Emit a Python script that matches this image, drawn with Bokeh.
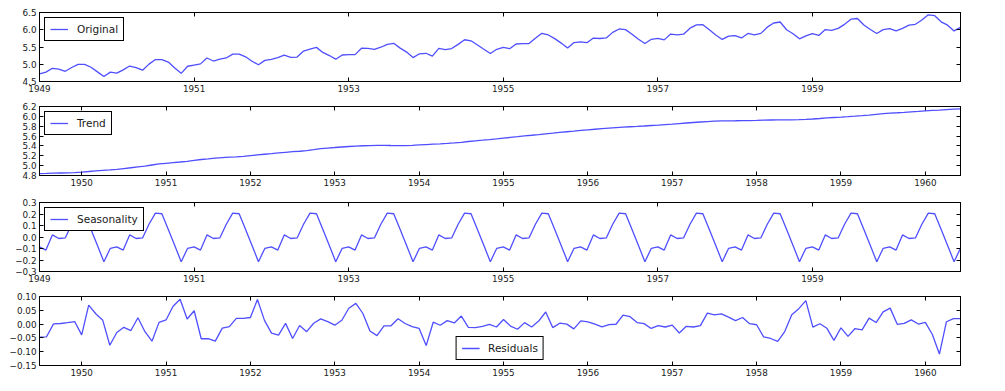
from bokeh.plotting import figure
from bokeh.layouts import column
from bokeh.models import Range1d, FixedTicker, LinearAxis, CustomLabelingPolicy
from bokeh.embed import file_html
from bokeh.resources import INLINE

# ---------------- data (log of monthly airline passengers) ----------------
start_year = 1949
n_months = 144

original = [
    4.718, 4.771, 4.883, 4.860, 4.796, 4.905, 4.997, 4.997, 4.913, 4.779, 4.644, 4.771,
    4.745, 4.836, 4.949, 4.905, 4.828, 5.004, 5.136, 5.136, 5.063, 4.890, 4.736, 4.942,
    4.977, 5.011, 5.182, 5.094, 5.147, 5.182, 5.293, 5.293, 5.215, 5.088, 4.984, 5.112,
    5.142, 5.193, 5.263, 5.198, 5.209, 5.384, 5.438, 5.489, 5.342, 5.252, 5.147, 5.268,
    5.278, 5.278, 5.464, 5.460, 5.434, 5.493, 5.576, 5.606, 5.468, 5.352, 5.193, 5.303,
    5.318, 5.236, 5.460, 5.425, 5.455, 5.576, 5.710, 5.680, 5.557, 5.434, 5.313, 5.434,
    5.489, 5.451, 5.587, 5.595, 5.598, 5.753, 5.897, 5.849, 5.743, 5.613, 5.468, 5.628,
    5.649, 5.624, 5.759, 5.746, 5.762, 5.924, 6.023, 6.004, 5.872, 5.724, 5.602, 5.724,
    5.753, 5.707, 5.875, 5.852, 5.872, 6.045, 6.142, 6.146, 6.001, 5.849, 5.720, 5.817,
    5.829, 5.762, 5.892, 5.852, 5.894, 6.075, 6.196, 6.225, 6.001, 5.883, 5.737, 5.820,
    5.886, 5.835, 6.006, 5.981, 6.040, 6.157, 6.306, 6.326, 6.138, 6.009, 5.892, 6.004,
    6.033, 5.969, 6.038, 6.133, 6.157, 6.282, 6.433, 6.407, 6.230, 6.133, 5.966, 6.068,
]

# trend: Jul 1949 .. Jun 1960
trend = [
    4.8373, 4.8411, 4.8466, 4.8512, 4.8544, 4.8599,
    4.8698, 4.8814, 4.8934, 4.9043, 4.9128, 4.9237, 4.9405, 4.9575, 4.9745, 4.9920, 5.0132, 5.0339,
    5.0479, 5.0610, 5.0738, 5.0884, 5.1070, 5.1244, 5.1384, 5.1528, 5.1638, 5.1715, 5.1784, 5.1894,
    5.2039, 5.2181, 5.2315, 5.2437, 5.2573, 5.2706, 5.2828, 5.2920, 5.3039, 5.3232, 5.3435, 5.3574,
    5.3677, 5.3783, 5.3884, 5.3978, 5.4039, 5.4073, 5.4104, 5.4103, 5.4084, 5.4068, 5.4062, 5.4105,
    5.4196, 5.4283, 5.4350, 5.4422, 5.4506, 5.4610, 5.4736, 5.4897, 5.5040, 5.5163, 5.5294, 5.5427,
    5.5579, 5.5727, 5.5875, 5.6027, 5.6166, 5.6312, 5.6459, 5.6598, 5.6742, 5.6876, 5.7008, 5.7147,
    5.7271, 5.7388, 5.7506, 5.7606, 5.7708, 5.7804, 5.7888, 5.7965, 5.8048, 5.8141, 5.8231, 5.8327,
    5.8427, 5.8536, 5.8649, 5.8755, 5.8856, 5.8944, 5.9014, 5.9069, 5.9099, 5.9106, 5.9115, 5.9137,
    5.9172, 5.9227, 5.9260, 5.9274, 5.9295, 5.9304, 5.9329, 5.9383, 5.9461, 5.9562, 5.9677, 5.9772,
    5.9852, 5.9940, 6.0039, 6.0148, 6.0265, 6.0407, 6.0545, 6.0662, 6.0731, 6.0808, 6.0920, 6.1020,
    6.1125, 6.1212, 6.1284, 6.1374, 6.1457, 6.1514,
]

# seasonal component: Jan 1949 .. Dec 1960
seasonal = [
    -0.086, -0.114, 0.018, -0.013, -0.008, 0.111, 0.207, 0.202, 0.066, -0.074, -0.215, -0.098,
    -0.086, -0.114, 0.018, -0.013, -0.008, 0.111, 0.207, 0.202, 0.066, -0.074, -0.215, -0.098,
    -0.086, -0.114, 0.018, -0.013, -0.008, 0.111, 0.207, 0.202, 0.066, -0.074, -0.215, -0.098,
    -0.086, -0.114, 0.018, -0.013, -0.008, 0.111, 0.207, 0.202, 0.066, -0.074, -0.215, -0.098,
    -0.086, -0.114, 0.018, -0.013, -0.008, 0.111, 0.207, 0.202, 0.066, -0.074, -0.215, -0.098,
    -0.086, -0.114, 0.018, -0.013, -0.008, 0.111, 0.207, 0.202, 0.066, -0.074, -0.215, -0.098,
    -0.086, -0.114, 0.018, -0.013, -0.008, 0.111, 0.207, 0.202, 0.066, -0.074, -0.215, -0.098,
    -0.086, -0.114, 0.018, -0.013, -0.008, 0.111, 0.207, 0.202, 0.066, -0.074, -0.215, -0.098,
    -0.086, -0.114, 0.018, -0.013, -0.008, 0.111, 0.207, 0.202, 0.066, -0.074, -0.215, -0.098,
    -0.086, -0.114, 0.018, -0.013, -0.008, 0.111, 0.207, 0.202, 0.066, -0.074, -0.215, -0.098,
    -0.086, -0.114, 0.018, -0.013, -0.008, 0.111, 0.207, 0.202, 0.066, -0.074, -0.215, -0.098,
    -0.086, -0.114, 0.018, -0.013, -0.008, 0.111, 0.207, 0.202, 0.066, -0.074, -0.215, -0.098,
]

# residuals: Jul 1949 .. Jun 1960
residual = [
    -0.0475, -0.0460, 0.0008, 0.0022, 0.0050, 0.0093,
    -0.0390, 0.0690, 0.0375, 0.0137, -0.0765, -0.0304, -0.0117, -0.0234, 0.0229, -0.0276, -0.0618, 0.0063,
    0.0149, 0.0644, 0.0901, 0.0186, 0.0483, -0.0531, -0.0526, -0.0617, -0.0144, -0.0091, 0.0210, 0.0208,
    0.0239, 0.0893, 0.0134, -0.0327, -0.0400, 0.0027, -0.0520, -0.0049, -0.0275, 0.0032, 0.0189, 0.0088,
    -0.0039, 0.0141, 0.0575, 0.0752, 0.0384, -0.0250, -0.0416, -0.0062, -0.0060, 0.0196, 0.0022, -0.0093,
    -0.0158, -0.0779, 0.0069, -0.0042, 0.0127, 0.0043, 0.0292, -0.0116, -0.0126, -0.0079, -0.0010, -0.0105,
    0.0169, -0.0073, -0.0186, 0.0053, -0.0103, 0.0111, 0.0439, -0.0127, 0.0032, -0.0002, -0.0174, 0.0115,
    0.0077, -0.0004, -0.0097, -0.0016, -0.0005, 0.0329, 0.0270, 0.0056, 0.0016, -0.0157, -0.0057, -0.0105,
    -0.0039, -0.0322, -0.0080, -0.0105, -0.0053, 0.0399, 0.0334, 0.0372, 0.0255, 0.0128, 0.0239, 0.0015,
    -0.0024, -0.0463, -0.0521, -0.0624, -0.0272, 0.0339, 0.0559, 0.0848, -0.0107, 0.0012, -0.0153, -0.0590,
    -0.0134, -0.0446, -0.0160, -0.0208, 0.0218, 0.0056, 0.0443, 0.0579, -0.0007, 0.0026, 0.0154, 0.0002,
    0.0063, -0.0378, -0.1085, 0.0086, 0.0196, 0.0199,
]

# tick labels
x_ticks_biennial = [1949, 1951, 1953, 1955, 1957, 1959]
x_ticks_yearly = [1950, 1951, 1952, 1953, 1954, 1955, 1956, 1957, 1958, 1959, 1960]
y_ticks_original = [4.5, 5.0, 5.5, 6.0, 6.5]
y_labels_original = ["4.5", "5.0", "5.5", "6.0", "6.5"]
y_ticks_trend = [4.8, 5.0, 5.2, 5.4, 5.6, 5.8, 6.0, 6.2]
y_labels_trend = ["4.8", "5.0", "5.2", "5.4", "5.6", "5.8", "6.0", "6.2"]
y_ticks_seasonal = [-0.3, -0.2, -0.1, 0.0, 0.1, 0.2, 0.3]
y_labels_seasonal = ["\u22120.3", "\u22120.2", "\u22120.1", "0.0", "0.1", "0.2", "0.3"]
y_ticks_resid = [-0.15, -0.1, -0.05, 0.0, 0.05, 0.1]
y_labels_resid = ["\u22120.15", "\u22120.10", "\u22120.05", "0.00", "0.05", "0.10"]

# monthly time axis in decimal years
x_full = [start_year + i / 12.0 for i in range(n_months)]
x_mid = x_full[6:6 + len(trend)]

LINE_COLOR = "#4f4fff"
FONT = "DejaVu Sans"

NO_LABELS = """
const all = [];
for (const i of indices) all.push(i);
for (const i of all) indices.unset(i);
return indices;
"""


def panel(x, y, label, xr, xticks, yr, yticks, ylabels, legend_loc, top, bottom):
    p = figure(frame_width=921, frame_height=69,
               min_border_left=39, min_border_right=29,
               min_border_top=top, min_border_bottom=bottom,
               x_range=Range1d(*xr), y_range=Range1d(*yr),
               toolbar_location=None, output_backend="svg",
               background_fill_color="white", border_fill_color="white")
    p.grid.visible = False
    p.outline_line_color = "black"
    p.outline_line_width = 1
    p.outline_line_alpha = 1

    # mirror axes (inward ticks only, no labels)
    top_ax = LinearAxis(ticker=FixedTicker(ticks=xticks))
    right_ax = LinearAxis(ticker=FixedTicker(ticks=yticks))
    p.add_layout(top_ax, "above")
    p.add_layout(right_ax, "right")
    for ax in (top_ax, right_ax):
        ax.major_label_text_font_size = "1px"
        ax.major_label_standoff = 0
        ax.major_label_policy = CustomLabelingPolicy(code=NO_LABELS)

    p.below[0].ticker = FixedTicker(ticks=xticks)
    p.below[0].major_label_overrides = {t: str(t) for t in xticks}
    p.left[0].ticker = FixedTicker(ticks=yticks)
    p.left[0].major_label_overrides = dict(zip(yticks, ylabels))

    for ax in p.axis:
        ax.major_tick_in = 4
        ax.major_tick_out = 0
        ax.minor_tick_line_color = None
        ax.axis_line_color = "black"
        ax.major_tick_line_color = "black"
        ax.major_label_text_font = FONT
        ax.major_label_text_color = "#1a1a1a"
    p.below[0].major_label_text_font_size = "8.8px"
    p.left[0].major_label_text_font_size = "8.8px"
    p.below[0].major_label_standoff = 3
    p.left[0].major_label_standoff = 3

    p.line(x, y, line_color=LINE_COLOR, line_width=1.3, legend_label=label)

    lg = p.legend[0]
    lg.location = legend_loc
    lg.margin = 5
    lg.padding = 5
    lg.spacing = 0
    lg.glyph_width = 18
    lg.glyph_height = 10
    lg.label_height = 10
    lg.label_standoff = 9
    lg.label_text_font = FONT
    lg.label_text_font_size = "10.5px"
    lg.label_text_color = "#1a1a1a"
    lg.border_line_color = "black"
    lg.border_line_width = 1
    lg.border_line_alpha = 1
    lg.background_fill_color = "white"
    lg.background_fill_alpha = 1
    return p


full_xr = (1949.0, 1949.0 + 143 / 12.0)
mid_xr = (1949.5, 1949.0 + 137 / 12.0)

p1 = panel(x_full, original, "Original", full_xr, x_ticks_biennial,
           (4.5, 6.5), y_ticks_original, y_labels_original, "top_left", 12, 21)
p2 = panel(x_mid, trend, "Trend", mid_xr, x_ticks_yearly,
           (4.8, 6.2), y_ticks_trend, y_labels_trend, "top_left", 2, 23)
p3 = panel(x_full, seasonal, "Seasonality", full_xr, x_ticks_biennial,
           (-0.3, 0.3), y_ticks_seasonal, y_labels_seasonal, "top_left", 2, 21)
p4 = panel(x_mid, residual, "Residuals", mid_xr, x_ticks_yearly,
           (-0.15, 0.10), y_ticks_resid, y_labels_resid, "bottom_center", 2, 14)

layout = column(p1, p2, p3, p4, spacing=0)

open("out.html", "w").write(file_html(layout, INLINE))
